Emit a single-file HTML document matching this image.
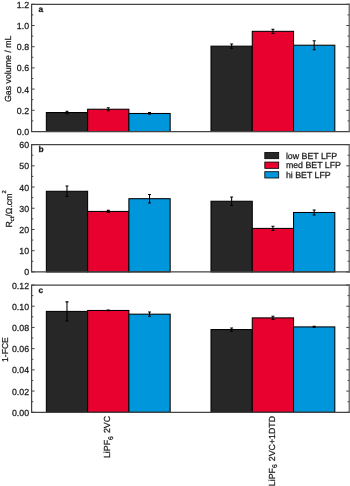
<!DOCTYPE html>
<html><head><meta charset="utf-8"><title>chart</title><style>html,body{margin:0;padding:0;background:#fff}svg{display:block}</style></head><body>
<svg width="350" height="486" viewBox="0 0 350 486" font-family="'Liberation Sans', sans-serif" font-size="8.8" fill="#1a1a1a" text-rendering="geometricPrecision"><style>text{stroke:#1a1a1a;stroke-width:0.25px}</style>
<rect width="350" height="486" fill="#fff"/>
<rect x="46.35" y="112.53" width="41.27" height="18.97" fill="#272727" stroke="#000" stroke-width="1.05"/>
<rect x="87.62" y="109.24" width="41.27" height="22.26" fill="#e8002e" stroke="#000" stroke-width="1.05"/>
<rect x="128.89" y="113.48" width="41.27" height="18.02" fill="#0096dc" stroke="#000" stroke-width="1.05"/>
<rect x="211.00" y="46.17" width="41.27" height="85.33" fill="#272727" stroke="#000" stroke-width="1.05"/>
<rect x="252.27" y="31.33" width="41.27" height="100.17" fill="#e8002e" stroke="#000" stroke-width="1.05"/>
<rect x="293.54" y="45.22" width="41.27" height="86.28" fill="#0096dc" stroke="#000" stroke-width="1.05"/>
<path d="M66.98 111.25V113.80M65.48 111.25H68.48M65.48 113.80H68.48" stroke="#000" stroke-width="1.05" fill="none"/>
<path d="M108.26 107.65V110.83M106.76 107.65H109.76M106.76 110.83H109.76" stroke="#000" stroke-width="1.05" fill="none"/>
<path d="M149.53 112.63V114.33M148.03 112.63H151.03M148.03 114.33H151.03" stroke="#000" stroke-width="1.05" fill="none"/>
<path d="M231.63 44.05V48.29M230.13 44.05H233.13M230.13 48.29H233.13" stroke="#000" stroke-width="1.05" fill="none"/>
<path d="M272.91 29.21V33.45M271.41 29.21H274.41M271.41 33.45H274.41" stroke="#000" stroke-width="1.05" fill="none"/>
<path d="M314.18 40.76V49.67M312.68 40.76H315.68M312.68 49.67H315.68" stroke="#000" stroke-width="1.05" fill="none"/>
<path d="M350.0 4.3H31.6V131.5H350.0" fill="none" stroke="#444" stroke-width="1.25"/>
<path d="M349.3 3.8V132.00" fill="none" stroke="#777" stroke-width="1.5"/>
<text x="29.1" y="135.00" text-anchor="end">0.0</text>
<text x="29.1" y="113.80" text-anchor="end">0.2</text>
<text x="29.1" y="92.60" text-anchor="end">0.4</text>
<text x="29.1" y="71.40" text-anchor="end">0.6</text>
<text x="29.1" y="50.20" text-anchor="end">0.8</text>
<text x="29.1" y="29.00" text-anchor="end">1.0</text>
<text x="29.1" y="7.80" text-anchor="end">1.2</text>
<path d="M31.6 131.50h3.0M349.3 131.50h-3.0M31.6 120.90h1.7M349.3 120.90h-1.7M31.6 110.30h3.0M349.3 110.30h-3.0M31.6 99.70h1.7M349.3 99.70h-1.7M31.6 89.10h3.0M349.3 89.10h-3.0M31.6 78.50h1.7M349.3 78.50h-1.7M31.6 67.90h3.0M349.3 67.90h-3.0M31.6 57.30h1.7M349.3 57.30h-1.7M31.6 46.70h3.0M349.3 46.70h-3.0M31.6 36.10h1.7M349.3 36.10h-1.7M31.6 25.50h3.0M349.3 25.50h-3.0M31.6 14.90h1.7M349.3 14.90h-1.7M31.6 4.30h3.0M349.3 4.30h-3.0" stroke="#444" stroke-width="1.0" fill="none"/>
<text x="38.5" y="12.10" font-weight="bold" font-size="8.4">a</text>
<text transform="translate(11.3 68.80) rotate(-90)" text-anchor="middle" font-size="8.8">Gas volume / mL</text>
<rect x="46.35" y="191.28" width="41.27" height="80.62" fill="#272727" stroke="#000" stroke-width="1.05"/>
<rect x="87.62" y="211.43" width="41.27" height="60.47" fill="#e8002e" stroke="#000" stroke-width="1.05"/>
<rect x="128.89" y="198.70" width="41.27" height="73.20" fill="#0096dc" stroke="#000" stroke-width="1.05"/>
<rect x="211.00" y="201.25" width="41.27" height="70.65" fill="#272727" stroke="#000" stroke-width="1.05"/>
<rect x="252.27" y="228.41" width="41.27" height="43.49" fill="#e8002e" stroke="#000" stroke-width="1.05"/>
<rect x="293.54" y="212.49" width="41.27" height="59.41" fill="#0096dc" stroke="#000" stroke-width="1.05"/>
<path d="M66.98 185.97V196.58M65.48 185.97H68.48M65.48 196.58H68.48" stroke="#000" stroke-width="1.05" fill="none"/>
<path d="M108.26 210.37V212.49M106.76 210.37H109.76M106.76 212.49H109.76" stroke="#000" stroke-width="1.05" fill="none"/>
<path d="M149.53 194.46V202.95M148.03 194.46H151.03M148.03 202.95H151.03" stroke="#000" stroke-width="1.05" fill="none"/>
<path d="M231.63 197.01V205.49M230.13 197.01H233.13M230.13 205.49H233.13" stroke="#000" stroke-width="1.05" fill="none"/>
<path d="M272.91 226.28V230.53M271.41 226.28H274.41M271.41 230.53H274.41" stroke="#000" stroke-width="1.05" fill="none"/>
<path d="M314.18 209.95V215.04M312.68 209.95H315.68M312.68 215.04H315.68" stroke="#000" stroke-width="1.05" fill="none"/>
<path d="M350.0 144.6H31.6V271.9H350.0" fill="none" stroke="#444" stroke-width="1.25"/>
<path d="M349.3 144.1V272.40" fill="none" stroke="#777" stroke-width="1.5"/>
<text x="29.1" y="275.40" text-anchor="end">0</text>
<text x="29.1" y="254.18" text-anchor="end">10</text>
<text x="29.1" y="232.97" text-anchor="end">20</text>
<text x="29.1" y="211.75" text-anchor="end">30</text>
<text x="29.1" y="190.53" text-anchor="end">40</text>
<text x="29.1" y="169.32" text-anchor="end">50</text>
<text x="29.1" y="148.10" text-anchor="end">60</text>
<path d="M31.6 271.90h3.0M349.3 271.90h-3.0M31.6 261.29h1.7M349.3 261.29h-1.7M31.6 250.68h3.0M349.3 250.68h-3.0M31.6 240.07h1.7M349.3 240.07h-1.7M31.6 229.47h3.0M349.3 229.47h-3.0M31.6 218.86h1.7M349.3 218.86h-1.7M31.6 208.25h3.0M349.3 208.25h-3.0M31.6 197.64h1.7M349.3 197.64h-1.7M31.6 187.03h3.0M349.3 187.03h-3.0M31.6 176.42h1.7M349.3 176.42h-1.7M31.6 165.82h3.0M349.3 165.82h-3.0M31.6 155.21h1.7M349.3 155.21h-1.7M31.6 144.60h3.0M349.3 144.60h-3.0" stroke="#444" stroke-width="1.0" fill="none"/>
<text x="38.5" y="152.40" font-weight="bold" font-size="8.4">b</text>
<text transform="translate(11.8 208.85) rotate(-90)" text-anchor="middle" font-size="8.8">R<tspan font-size="5.8" dy="2">ct</tspan><tspan dy="-2">/Ω.cm</tspan><tspan font-size="5.8" dy="-5.7">2</tspan></text>
<rect x="46.35" y="311.41" width="41.27" height="100.89" fill="#272727" stroke="#000" stroke-width="1.05"/>
<rect x="87.62" y="310.46" width="41.27" height="101.84" fill="#e8002e" stroke="#000" stroke-width="1.05"/>
<rect x="128.89" y="314.17" width="41.27" height="98.13" fill="#0096dc" stroke="#000" stroke-width="1.05"/>
<rect x="211.00" y="329.56" width="41.27" height="82.75" fill="#272727" stroke="#000" stroke-width="1.05"/>
<rect x="252.27" y="317.89" width="41.27" height="94.41" fill="#e8002e" stroke="#000" stroke-width="1.05"/>
<rect x="293.54" y="326.90" width="41.27" height="85.40" fill="#0096dc" stroke="#000" stroke-width="1.05"/>
<path d="M66.98 301.87V320.96M65.48 301.87H68.48M65.48 320.96H68.48" stroke="#000" stroke-width="1.05" fill="none"/>
<path d="M108.26 310.14V310.78M106.76 310.14H109.76M106.76 310.78H109.76" stroke="#000" stroke-width="1.05" fill="none"/>
<path d="M149.53 312.05V316.29M148.03 312.05H151.03M148.03 316.29H151.03" stroke="#000" stroke-width="1.05" fill="none"/>
<path d="M231.63 327.96V331.15M230.13 327.96H233.13M230.13 331.15H233.13" stroke="#000" stroke-width="1.05" fill="none"/>
<path d="M272.91 316.29V319.48M271.41 316.29H274.41M271.41 319.48H274.41" stroke="#000" stroke-width="1.05" fill="none"/>
<path d="M314.18 326.37V327.43M312.68 326.37H315.68M312.68 327.43H315.68" stroke="#000" stroke-width="1.05" fill="none"/>
<path d="M350.0 285.0H31.6V412.3H350.0" fill="none" stroke="#444" stroke-width="1.25"/>
<path d="M349.3 284.5V412.80" fill="none" stroke="#777" stroke-width="1.5"/>
<text x="29.1" y="415.80" text-anchor="end">0.00</text>
<text x="29.1" y="394.58" text-anchor="end">0.02</text>
<text x="29.1" y="373.37" text-anchor="end">0.04</text>
<text x="29.1" y="352.15" text-anchor="end">0.06</text>
<text x="29.1" y="330.93" text-anchor="end">0.08</text>
<text x="29.1" y="309.72" text-anchor="end">0.10</text>
<text x="29.1" y="288.50" text-anchor="end">0.12</text>
<path d="M31.6 412.30h3.0M349.3 412.30h-3.0M31.6 401.69h1.7M349.3 401.69h-1.7M31.6 391.08h3.0M349.3 391.08h-3.0M31.6 380.48h1.7M349.3 380.48h-1.7M31.6 369.87h3.0M349.3 369.87h-3.0M31.6 359.26h1.7M349.3 359.26h-1.7M31.6 348.65h3.0M349.3 348.65h-3.0M31.6 338.04h1.7M349.3 338.04h-1.7M31.6 327.43h3.0M349.3 327.43h-3.0M31.6 316.82h1.7M349.3 316.82h-1.7M31.6 306.22h3.0M349.3 306.22h-3.0M31.6 295.61h1.7M349.3 295.61h-1.7M31.6 285.00h3.0M349.3 285.00h-3.0" stroke="#444" stroke-width="1.0" fill="none"/>
<text x="38.5" y="292.80" font-weight="bold" font-size="8.4">c</text>
<text transform="translate(7.9 349.55) rotate(-90)" text-anchor="middle" font-size="8.6">1-FCE</text>
<rect x="264.8" y="152.4" width="13.9" height="6.3" fill="#272727" stroke="#000" stroke-width="0.8"/>
<text x="285.90000000000003" y="158.65" font-size="8.8">low BET LFP</text>
<rect x="264.8" y="162.05" width="13.9" height="6.3" fill="#e8002e" stroke="#000" stroke-width="0.8"/>
<text x="285.90000000000003" y="168.30" font-size="8.8">med BET LFP</text>
<rect x="264.8" y="171.70000000000002" width="13.9" height="6.3" fill="#0096dc" stroke="#000" stroke-width="0.8"/>
<text x="285.90000000000003" y="177.95" font-size="8.8">hi BET LFP</text>
<text transform="translate(109.8 416) rotate(-90)" text-anchor="end" font-size="8.8">LiPF<tspan font-size="6.8" dy="2.8">6</tspan><tspan dy="-2.8" dx="0.6"> 2VC</tspan></text>
<text transform="translate(274.6 416) rotate(-90)" text-anchor="end" font-size="8.8">LiPF<tspan font-size="6.8" dy="2.8">6</tspan><tspan dy="-2.8" dx="0.6"> 2VC+1DTD</tspan></text>
</svg>
</body></html>
